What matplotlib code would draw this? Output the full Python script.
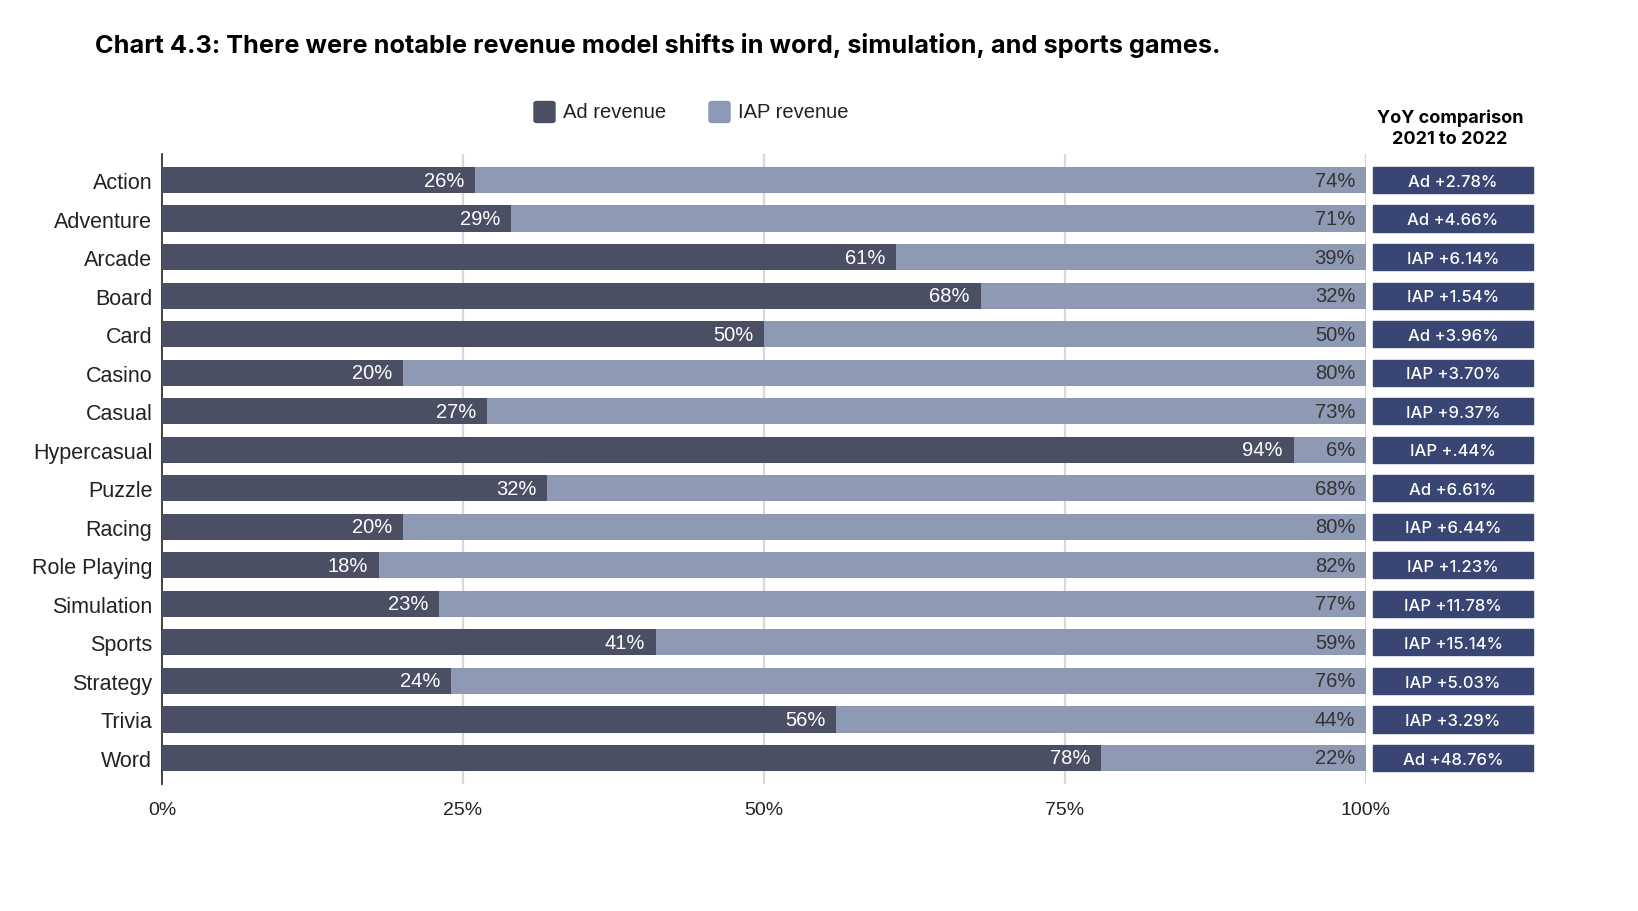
import matplotlib
matplotlib.use("Agg")
import matplotlib.pyplot as plt
from matplotlib.patches import Rectangle, FancyBboxPatch

categories = ["Action", "Adventure", "Arcade", "Board", "Card", "Casino", "Casual",
              "Hypercasual", "Puzzle", "Racing", "Role Playing", "Simulation",
              "Sports", "Strategy", "Trivia", "Word"]
ad_revenue = [26, 29, 61, 68, 50, 20, 27, 94, 32, 20, 18, 23, 41, 24, 56, 78]
iap_revenue = [74, 71, 39, 32, 50, 80, 73, 6, 68, 80, 82, 77, 59, 76, 44, 22]
yoy_labels = ["Ad +2.78%", "Ad +4.66%", "IAP +6.14%", "IAP +1.54%", "Ad +3.96%",
              "IAP +3.70%", "IAP +9.37%", "IAP +.44%", "Ad +6.61%", "IAP +6.44%",
              "IAP +1.23%", "IAP +11.78%", "IAP +15.14%", "IAP +5.03%", "IAP +3.29%",
              "Ad +48.76%"]
x_ticks = [0, 25, 50, 75, 100]
x_ticklabels = ["0%", "25%", "50%", "75%", "100%"]

DARK = "#4b4f63"
LIGHT = "#8e99b3"
BADGE = "#394674"

W, H = 1638, 912
fig = plt.figure(figsize=(W / 100, H / 100), dpi=100)
fig.patch.set_facecolor("white")

ax_left, ax_right = 162 / W, 1366 / W
ax_top, ax_bot = 1 - 155 / H, 1 - 785 / H
ax = fig.add_axes([ax_left, ax_bot, ax_right - ax_left, ax_top - ax_bot])

n = len(categories)
y = list(range(n))
bh = 0.68
ax.barh(y, ad_revenue, height=bh, color=DARK, zorder=3)
ax.barh(y, iap_revenue, left=ad_revenue, height=bh, color=LIGHT, zorder=3)

ax.set_xlim(0, 100)
ax.set_ylim(n - 1 + 0.675, -0.675)

for xv in x_ticks[1:]:
    ax.axvline(xv, color="#d8d8d8", lw=1.6, zorder=1)

ax.set_xticks(x_ticks)
ax.set_xticklabels(x_ticklabels, fontfamily="Liberation Sans", fontsize=14, color="#222222")
ax.set_yticks(y)
ax.set_yticklabels(categories, fontfamily="Liberation Sans", fontsize=15.5, color="#222222")
ax.tick_params(axis="both", length=0)
ax.tick_params(axis="x", pad=12)
ax.tick_params(axis="y", pad=7)
for s in ["top", "right", "bottom"]:
    ax.spines[s].set_visible(False)
ax.spines["left"].set_color("#333333")
ax.spines["left"].set_linewidth(1.3)

for i in range(n):
    ax.text(ad_revenue[i] - 0.9, i, f"{ad_revenue[i]}%", ha="right", va="center",
            color="white", fontsize=14.5, fontfamily="Liberation Sans", zorder=4)
    ax.text(100 - 0.9, i, f"{iap_revenue[i]}%", ha="right", va="center",
            color="#333333", fontsize=14.5, fontfamily="Liberation Sans", zorder=4)
    # YoY badge
    ax.add_patch(Rectangle((100.58, i - bh / 2), 13.3, bh, color=BADGE,
                           clip_on=False, zorder=3))
    ax.text(100.58 + 13.3 / 2, i + 0.03, yoy_labels[i], ha="center", va="center",
            color="white", fontsize=12, fontfamily="Inter", fontweight="medium",
            clip_on=False, zorder=4)

# Title
fig.text(95 / W, 1 - 45 / H, "Chart 4.3: There were notable revenue model shifts in word, simulation, and sports games.",
         ha="left", va="center", fontsize=18.2, fontweight="bold", fontfamily="Inter", color="black")

# YoY header
fig.text(1450 / W, 1 - 129 / H, "YoY comparison\n2021 to 2022", ha="center", va="center",
         fontsize=13, fontweight="bold", fontfamily="Inter", color="black", linespacing=1.3)

# Legend
def legend_item(xpx, color, label):
    sq = 21
    fig.patches.append(FancyBboxPatch((xpx / W, 1 - (113 + sq / 2) / H), sq / W, sq / H,
                                      boxstyle="round,pad=0,rounding_size=0.002",
                                      transform=fig.transFigure, color=color, figure=fig))
    fig.text((xpx + sq + 8) / W, 1 - 113 / H, label, ha="left", va="center",
             fontsize=14.5, fontfamily="Liberation Sans", color="#222222")

legend_item(534, DARK, "Ad revenue")
legend_item(709, LIGHT, "IAP revenue")

fig.savefig("out.png", dpi=100, facecolor="white")
